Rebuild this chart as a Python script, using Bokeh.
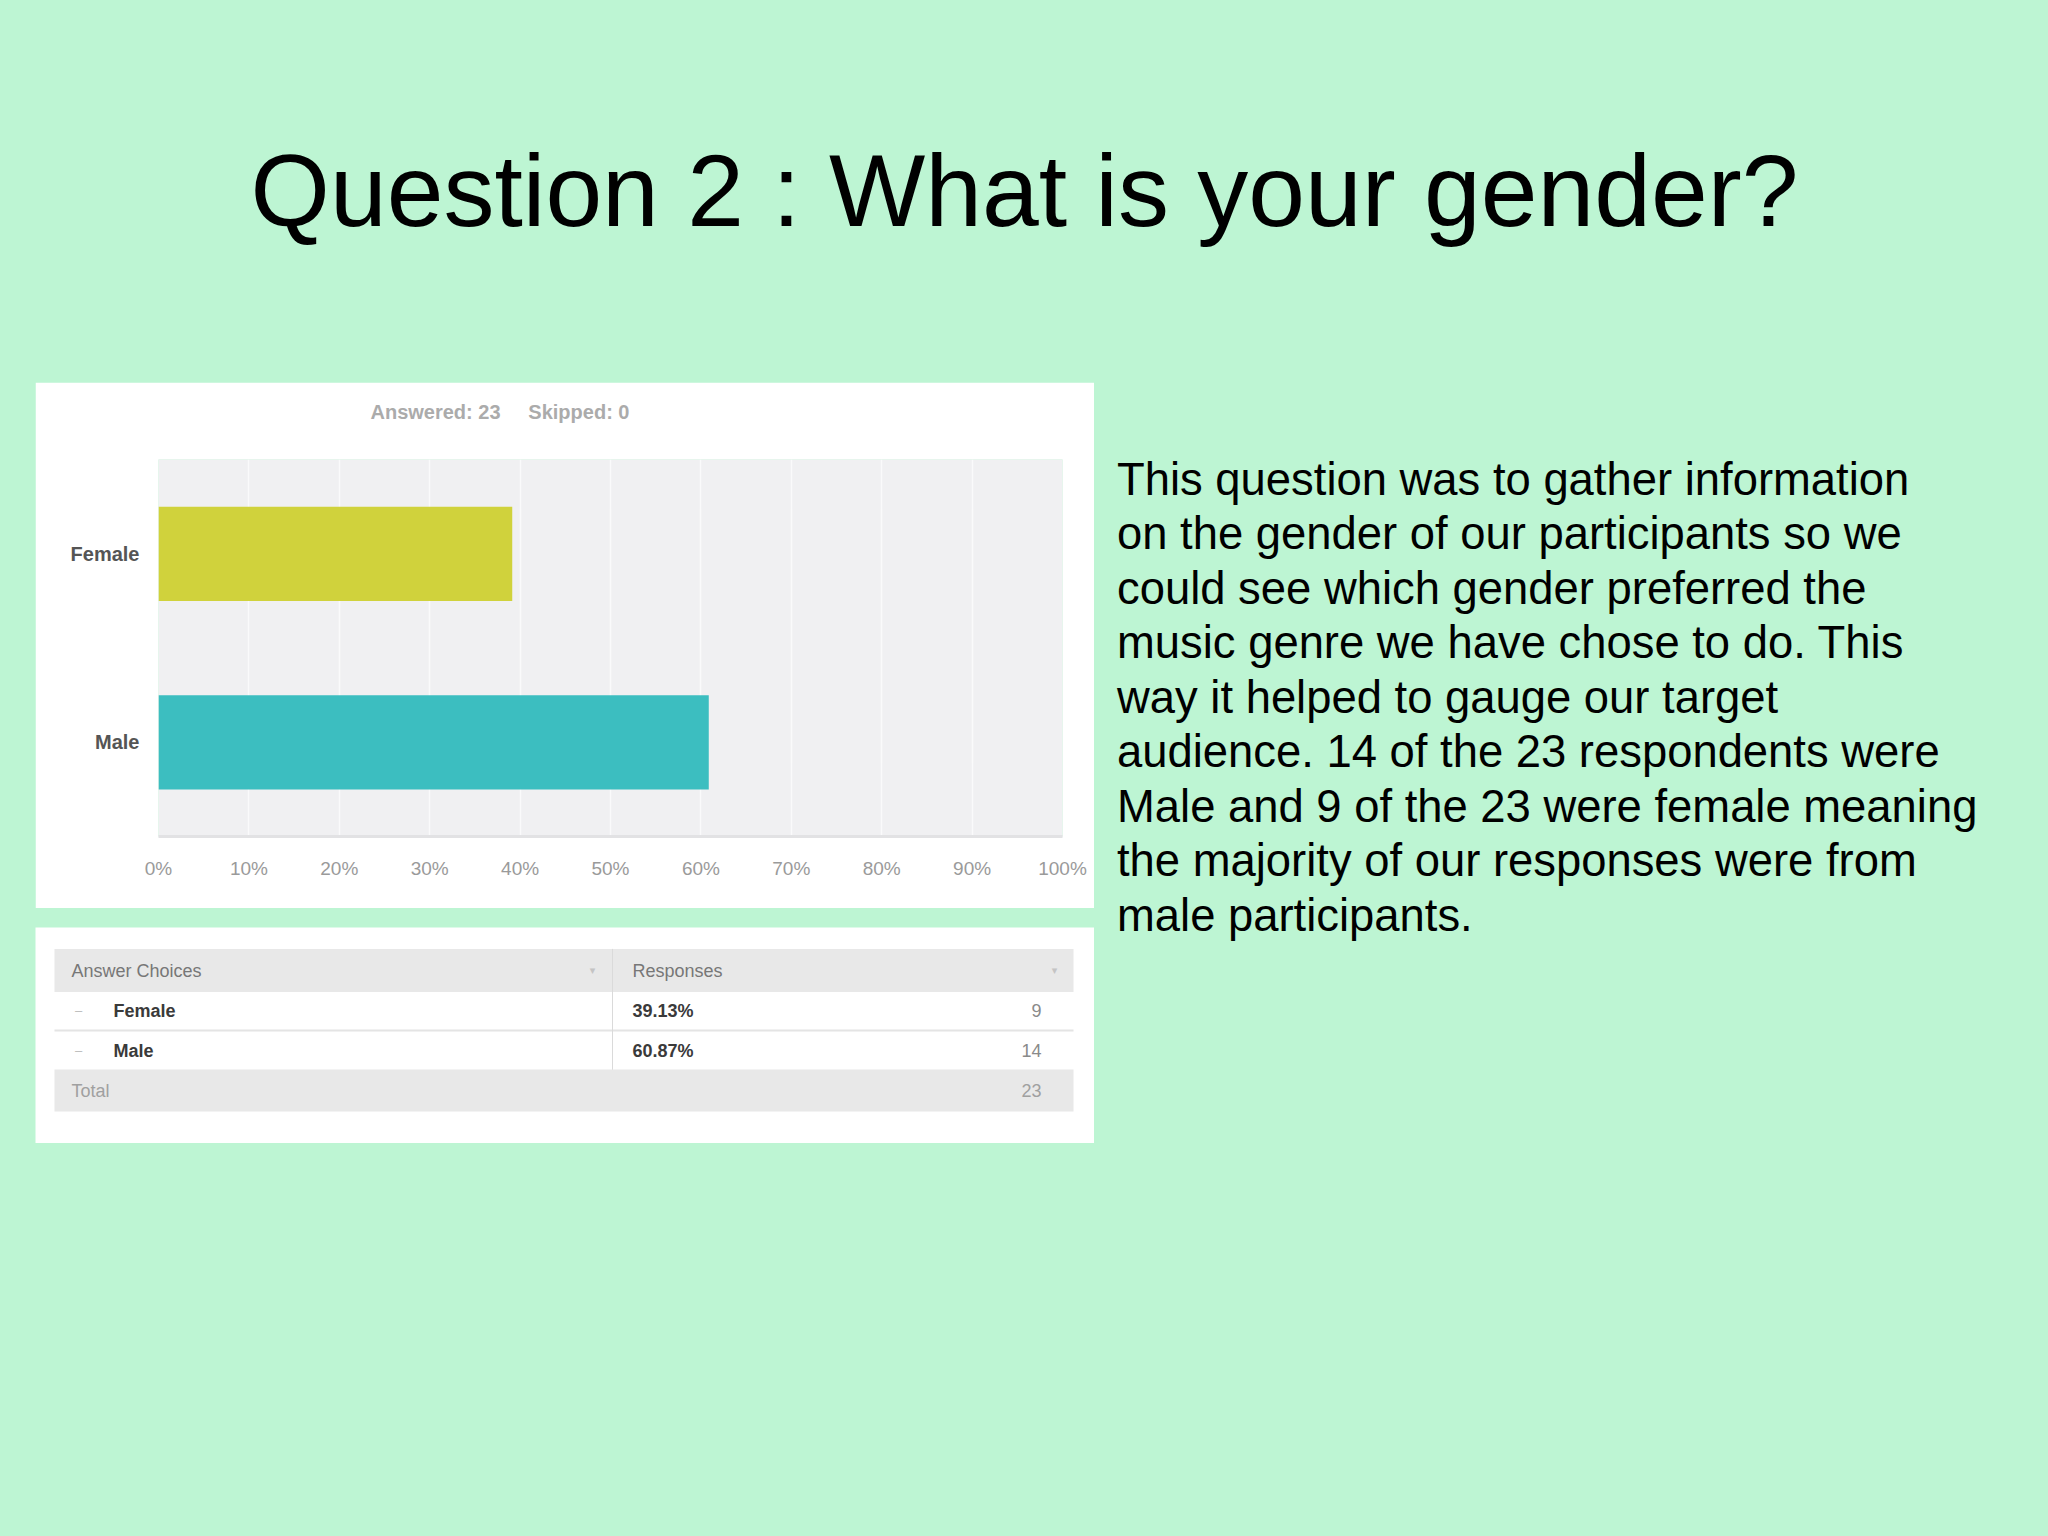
from bokeh.plotting import figure
from bokeh.layouts import row, column
from bokeh.models import FactorRange, Range1d, FixedTicker, Spacer
from bokeh.core.properties import value
from bokeh.embed import file_html
from bokeh.resources import INLINE

# ---------------- data ----------------
slide_title = "Question 2 : What is your gender?"
categories = ["Female", "Male"]
percentages = [39.13, 60.87]
counts = [9, 14]
total_count = 23
skipped = 0
bar_colors = ["#D0D23C", "#3CBEC0"]
tick_values = [0, 10, 20, 30, 40, 50, 60, 70, 80, 90, 100]
tick_labels = ["0%", "10%", "20%", "30%", "40%", "50%", "60%", "70%", "80%", "90%", "100%"]
table_headers = ["Answer Choices", "Responses"]
body_lines = [
    "This question was to gather information",
    "on the gender of our participants so we",
    "could see which gender preferred the",
    "music genre we have chose to do. This",
    "way it helped to gauge our target",
    "audience. 14 of the 23 respondents were",
    "Male and 9 of the 23 were female meaning",
    "the majority of our responses were from",
    "male participants.",
]

BG = "#BDF5D3"
FONT = "Liberation Sans"

def blank(w, h, xr, yr, fill):
    f = figure(width=w, height=h, x_range=xr, y_range=yr,
               output_backend="svg", toolbar_location=None,
               x_axis_location=None, y_axis_location=None,
               min_border=0)
    f.grid.visible = False
    f.outline_line_color = None
    f.background_fill_color = fill
    f.border_fill_color = fill
    f.frame_align = False
    return f

# ---------------- slide title ----------------
W = 2032
title_h = 374
tfig = blank(W, title_h, Range1d(0, W), Range1d(title_h, 0), BG)
tfig.text(x=[1016], y=[182], text=[slide_title], text_font=value(FONT),
          text_font_size="102px", text_color="#000000",
          text_align="center", text_baseline="alphabetic")

# ---------------- bar chart ----------------
chart_w, chart_h = 1059, 526
p = figure(width=chart_w, height=chart_h,
           y_range=FactorRange(*reversed(categories)),
           x_range=Range1d(0, 100),
           output_backend="svg", toolbar_location=None,
           min_border_left=123, min_border_right=32,
           min_border_top=77, min_border_bottom=72)
p.frame_align = False
p.background_fill_color = "#F0F0F2"
p.border_fill_color = "white"
p.outline_line_color = None
p.hbar(y=categories, left=0, right=percentages, height=0.5,
       fill_color=bar_colors, line_color=None)

p.xaxis.ticker = FixedTicker(ticks=tick_values)
p.xaxis.major_label_overrides = {t: l for t, l in zip(tick_values, tick_labels)}
p.xaxis.major_label_text_font = FONT
p.xaxis.major_label_text_font_size = "19px"
p.xaxis.major_label_text_color = "#9A9A9A"
p.xaxis.major_label_standoff = 15
p.xaxis.axis_line_color = "#E2E2E4"
p.xaxis.axis_line_width = 3
p.xaxis.major_tick_line_color = None
p.xaxis.minor_tick_line_color = None

p.yaxis.major_label_text_font = FONT
p.yaxis.major_label_text_font_size = "20px"
p.yaxis.major_label_text_font_style = "bold"
p.yaxis.major_label_text_color = "#555555"
p.yaxis.major_label_standoff = 13
p.yaxis.axis_line_color = None
p.yaxis.major_tick_line_color = None
p.yaxis.minor_tick_line_color = None

p.xgrid.grid_line_color = "#FAFAFB"
p.xgrid.grid_line_width = 1.5
p.ygrid.grid_line_color = None

nb = "\u00a0"
# a blank second line lifts the header line higher inside the top border
p.title.text = f"Answered: {total_count}{nb*5}Skipped: {skipped}\n{nb}"
p.title.text_font = FONT
p.title.text_font_size = "20px"
p.title.text_font_style = "bold"
p.title.text_color = "#ABABAB"
p.title.align = "left"
p.title.offset = 212
p.title.vertical_align = "top"
p.title.standoff = 25

# ---------------- table ----------------
table_h = 216
gap_h = 19
tb = blank(chart_w, table_h, Range1d(0, chart_w), Range1d(4.325, -1.075), "white")
band_l, band_r = 19, 1038
tb.hbar(y=[0, 3], left=band_l, right=band_r, height=[1.08, 1.05],
        fill_color="#E8E8E8", line_color=None)
tb.segment(x0=[band_l], y0=[1.5], x1=[band_r], y1=[1.5],
           line_color="#E4E4E4", line_width=2)
tb.segment(x0=[577], y0=[-0.54], x1=[577], y1=[2.48],
           line_color="#DADADA", line_width=1)

tb.text(x=[36, 597], y=[0, 0], text=table_headers, text_font=value(FONT),
        text_font_size="18px", text_color="#777777",
        text_baseline="middle", text_align="left")
tb.text(x=[557, 1019], y=[0, 0], text=["\u25be", "\u25be"], text_font=value("DejaVu Sans"),
        text_font_size="11px", text_color="#C4C4C4",
        text_baseline="middle", text_align="center")
rows_y = [1 + i for i in range(len(categories))]
tb.text(x=[43] * len(categories), y=rows_y, text=["\u2013"] * len(categories),
        text_font=value(FONT), text_font_size="13px", text_color="#BBBBBB",
        text_baseline="middle", text_align="center")
tb.text(x=[78] * len(categories), y=rows_y, text=categories, text_font=value(FONT),
        text_font_size="18px", text_font_style="bold", text_color="#3A3A3A",
        text_baseline="middle", text_align="left")
tb.text(x=[597] * len(categories), y=rows_y, text=[f"{v:.2f}%" for v in percentages],
        text_font=value(FONT), text_font_size="18px", text_font_style="bold",
        text_color="#3A3A3A", text_baseline="middle", text_align="left")
tb.text(x=[1006] * len(categories), y=rows_y, text=[str(c) for c in counts],
        text_font=value(FONT), text_font_size="18px", text_color="#8A8A8A",
        text_baseline="middle", text_align="right")
tb.text(x=[36], y=[3], text=["Total"], text_font=value(FONT),
        text_font_size="18px", text_color="#A0A0A0",
        text_baseline="middle", text_align="left")
tb.text(x=[1006], y=[3], text=[str(total_count)], text_font=value(FONT),
        text_font_size="18px", text_color="#A0A0A0",
        text_baseline="middle", text_align="right")

# ---------------- body text ----------------
mid_h = chart_h + gap_h + table_h
left_w = 27
text_w = W - left_w - chart_w
bfig = blank(text_w, mid_h, Range1d(0, text_w), Range1d(mid_h, 0), BG)
line_y = [96.5 + 54.5 * i for i in range(len(body_lines))]
bfig.text(x=[22.5] * len(body_lines), y=line_y, text=body_lines,
          text_font=value(FONT), text_font_size="45.4px", text_color="#000000",
          text_align="left", text_baseline="alphabetic")

gap = Spacer(width=chart_w, height=gap_h)
left = Spacer(width=left_w, height=mid_h)
mid = row(left, column(p, gap, tb, spacing=0), bfig, spacing=0)
bottom = Spacer(width=W, height=1520 - title_h - mid_h)
layout = column(tfig, mid, bottom, spacing=0)

html = file_html(layout, INLINE, title="Question 2")
html = html.replace("</head>",
                    "<style>html,body{background:%s;margin:0;}body{margin:8px;}</style></head>" % BG, 1)
open("out.html", "w").write(html)
